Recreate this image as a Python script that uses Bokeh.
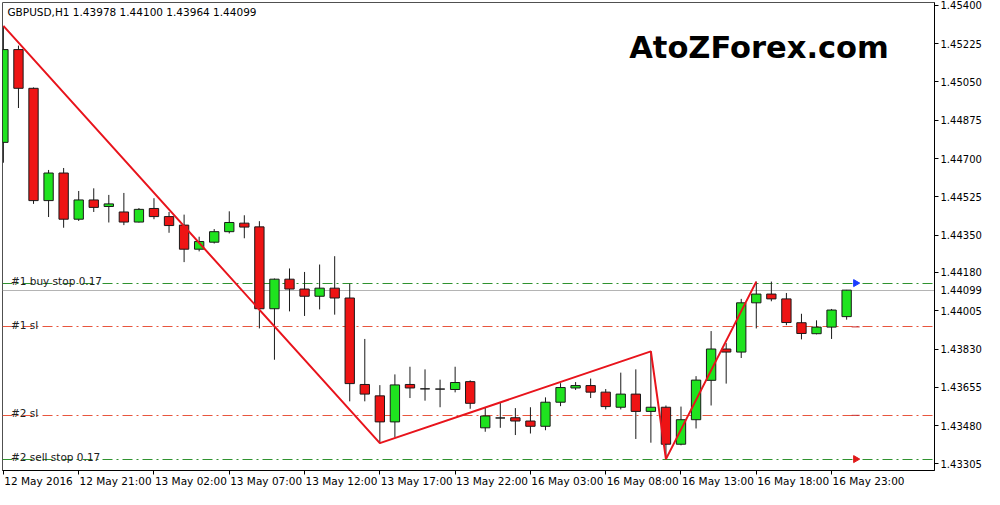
import math
from bokeh.plotting import figure
from bokeh.models import Range1d, FixedTicker, PrintfTickFormatter, Label, ColumnDataSource
from bokeh.embed import file_html
from bokeh.resources import INLINE

# ---------------- data ----------------
chart_title = "GBPUSD,H1  1.43978 1.44100 1.43964 1.44099"
watermark = "AtoZForex.com"

opens = [1.44774, 1.45198, 1.45021, 1.44508, 1.44634, 1.44423, 1.44511, 1.44481, 1.44456, 1.44410,
         1.44472, 1.44435, 1.44396, 1.44286, 1.44318, 1.44366, 1.44405, 1.44388, 1.44014, 1.44149,
         1.44104, 1.44071, 1.44108, 1.44063, 1.43668, 1.43616, 1.43497, 1.43668, 1.43648, 1.43647,
         1.43645, 1.43681, 1.43470, 1.43515, 1.43516, 1.43501, 1.43477, 1.43587, 1.43652, 1.43663,
         1.43633, 1.43564, 1.43624, 1.43545, 1.43564, 1.43395, 1.43507, 1.43687, 1.43830, 1.43816,
         1.44041, 1.44081, 1.44059, 1.43950, 1.43900, 1.43930, 1.43978]
highs = [1.45306, 1.45216, 1.45025, 1.44648, 1.44657, 1.44552, 1.44564, 1.44534, 1.44543, 1.44474,
         1.44519, 1.44456, 1.44444, 1.44343, 1.44378, 1.44459, 1.44441, 1.44414, 1.44152, 1.44198,
         1.44182, 1.44216, 1.44254, 1.44128, 1.43876, 1.43665, 1.43714, 1.43749, 1.43737, 1.43690,
         1.43749, 1.43687, 1.43564, 1.43587, 1.43560, 1.43564, 1.43609, 1.43674, 1.43679, 1.43695,
         1.43647, 1.43722, 1.43737, 1.43819, 1.43572, 1.43567, 1.43706, 1.43912, 1.43857, 1.44059,
         1.44138, 1.44138, 1.44086, 1.43991, 1.43961, 1.44013, 1.44100]
lows = [1.44681, 1.44931, 1.44493, 1.44433, 1.44384, 1.44415, 1.44456, 1.44408, 1.44396, 1.44408,
        1.44423, 1.44361, 1.44227, 1.44276, 1.44312, 1.44358, 1.44336, 1.43924, 1.43781, 1.44002,
        1.43981, 1.44011, 1.43987, 1.43591, 1.43591, 1.43399, 1.43426, 1.43606, 1.43594, 1.43564,
        1.43632, 1.43557, 1.43452, 1.43470, 1.43437, 1.43444, 1.43459, 1.43569, 1.43643, 1.43606,
        1.43554, 1.43554, 1.43419, 1.43402, 1.43327, 1.43390, 1.43467, 1.43572, 1.43672, 1.43789,
        1.43924, 1.44048, 1.43939, 1.43874, 1.43897, 1.43876, 1.43964]
closes = [1.45198, 1.45021, 1.44508, 1.44634, 1.44423, 1.44511, 1.44477, 1.44493, 1.44410, 1.44468,
          1.44435, 1.44394, 1.44286, 1.44321, 1.44366, 1.44408, 1.44387, 1.44014, 1.44149, 1.44104,
          1.44071, 1.44108, 1.44063, 1.43672, 1.43624, 1.43497, 1.43666, 1.43652, 1.43648, 1.43647,
          1.43677, 1.43582, 1.43524, 1.43515, 1.43501, 1.43477, 1.43587, 1.43654, 1.43663, 1.43633,
          1.43567, 1.43624, 1.43545, 1.43564, 1.43395, 1.43507, 1.43688, 1.43830, 1.43816, 1.44041,
          1.44081, 1.44059, 1.43951, 1.43901, 1.43930, 1.44008, 1.44099]

tick_bars = [0, 5, 10, 15, 20, 25, 30, 35, 40, 45, 50, 55]
tick_labels = ["12 May 2016", "12 May 21:00", "13 May 02:00", "13 May 07:00", "13 May 12:00",
               "13 May 17:00", "13 May 22:00", "16 May 03:00", "16 May 08:00", "16 May 13:00",
               "16 May 18:00", "16 May 23:00"]

price_ticks = [1.45400, 1.45225, 1.45050, 1.44875, 1.44700, 1.44525, 1.44350,
               1.44180, 1.44005, 1.43830, 1.43655, 1.43480, 1.43305]

zigzag_bars = [0, 25, 43, 44, 50]
zigzag_prices = [1.45306, 1.43400, 1.43819, 1.43327, 1.44138]

order_names = ["#1 buy stop 0.17", "#1 sl", "#2 sl", "#2 sell stop 0.17"]
order_levels = [1.44131, 1.43931, 1.43527, 1.43327]
order_kinds = ["entry", "sl", "sl", "entry"]
order_arrow_bar = 56.6

# ---------------- layout / styles ----------------
FONT = "DejaVu Sans"
FS = "10.5px"
FS_NUM = 10.5
BULL = "#1fe31f"
BEAR = "#ee1414"
WICK = "#1a1a1a"
ENTRY_COL = "#2f922f"
SL_COL = "#e8563e"

W, H = 984, 489
MB_L, MB_T, MB_R, MB_B = 2, 2, 48, 15
FRAME_W = W - MB_L - MB_R
PX_PER_BAR = 15.09

x_start = -0.06
x_end = x_start + FRAME_W / PX_PER_BAR
y_start, y_end = 1.43275, 1.45413

p = figure(width=W, height=H, x_range=Range1d(x_start, x_end), y_range=Range1d(y_start, y_end),
           output_backend="svg", toolbar_location=None, y_axis_location="right",
           min_border_left=MB_L, min_border_top=MB_T, min_border_right=MB_R, min_border_bottom=MB_B)
p.grid.visible = False
p.background_fill_color = "white"
p.border_fill_color = "white"
p.outline_line_color = "#505050"
p.outline_line_width = 1

# price scale: tick marks at the scale levels (minor ticks), labels at those levels + current price
current_price = closes[-1]
ya = p.yaxis[0]
ya.ticker = FixedTicker(ticks=price_ticks + [current_price], minor_ticks=price_ticks)
ya.formatter = PrintfTickFormatter(format="%.5f")
ya.major_tick_out = 4
ya.major_tick_in = 0
ya.major_tick_line_color = None
ya.minor_tick_out = 4
ya.minor_tick_in = 0
ya.minor_tick_line_color = "black"
ya.axis_line_color = "black"
ya.major_label_text_font = FONT
ya.major_label_text_font_size = "10px"
ya.major_label_text_color = "#000000"
ya.major_label_standoff = 2

# time scale: tick marks at the labelled bars (minor ticks), text left-aligned to them
CHAR_EM = {" ": 0.318, ":": 0.337, "M": 0.863, "a": 0.613, "y": 0.592}
def text_px(t):
    return sum(CHAR_EM.get(ch, 0.636) for ch in t) * FS_NUM

label_centres = [round(b + (text_px(t) / 2 + 1) / PX_PER_BAR, 4) for b, t in zip(tick_bars, tick_labels)]
xa = p.xaxis[0]
xa.ticker = FixedTicker(ticks=label_centres, minor_ticks=tick_bars)
xa.major_label_overrides = {c: t for c, t in zip(label_centres, tick_labels)}
xa.major_tick_out = 4
xa.major_tick_in = 0
xa.major_tick_line_color = None
xa.minor_tick_out = 4
xa.minor_tick_in = 0
xa.minor_tick_line_color = "black"
xa.axis_line_color = "black"
xa.major_label_text_font = FONT
xa.major_label_text_font_size = FS
xa.major_label_text_color = "#000000"
xa.major_label_standoff = 0

# order lines and current price line (behind candles)
for name, lvl, kind in zip(order_names, order_levels, order_kinds):
    col = ENTRY_COL if kind == "entry" else SL_COL
    p.hspan(y=[lvl], line_color=col, line_width=1, line_dash="10 4 2 4")
p.hspan(y=[current_price], line_color="#b4b4b4", line_width=1)

# candles
bar_index = list(range(len(opens)))
tops = [max(o, c) for o, c in zip(opens, closes)]
bottoms = [min(o, c) for o, c in zip(opens, closes)]
colors = [BULL if c > o else (BEAR if c < o else "#000000") for o, c in zip(opens, closes)]
src = ColumnDataSource(dict(x=bar_index, h=highs, l=lows, top=tops, bottom=bottoms, color=colors))
p.segment(x0="x", y0="l", x1="x", y1="h", source=src, line_color=WICK, line_width=1)
p.vbar(x="x", width=0.62, top="top", bottom="bottom", source=src,
       fill_color="color", line_color=WICK, line_width=1)

# zigzag
p.line(zigzag_bars, zigzag_prices, line_color="#e8141c", line_width=2)

# order arrows
entry_lv = [l for l, k in zip(order_levels, order_kinds) if k == "entry"]
sl_lv = [l for l, k in zip(order_levels, order_kinds) if k == "sl"]
p.scatter([order_arrow_bar], [entry_lv[0]], marker="triangle", angle=-math.pi / 2, size=7,
          fill_color="#1a3cff", line_color="#1a3cff")
p.scatter([order_arrow_bar], [entry_lv[1]], marker="triangle", angle=-math.pi / 2, size=7,
          fill_color="#e01818", line_color="#e01818")
p.scatter([order_arrow_bar] * len(sl_lv), sl_lv, marker="dash", size=8, line_color="#c82828", line_width=1)

# texts
for name, lvl, kind in zip(order_names, order_levels, order_kinds):
    p.add_layout(Label(x=0.5, y=lvl, y_offset=2, text=name, text_font=FONT, text_font_size=FS,
                       text_color="#202020", text_baseline="alphabetic", text_align="left"))

p.add_layout(Label(x=0.27, y=y_end, y_offset=-3, text=chart_title, text_font=FONT, text_font_size=FS,
                   text_color="#000000", text_baseline="top", text_align="left"))

p.add_layout(Label(x=41.56, y=1.45207, text=watermark, text_font=FONT, text_font_size="30.5px",
                   text_font_style="bold", text_color="#000000", text_baseline="alphabetic",
                   text_align="left"))

open("out.html", "w").write(file_html(p, INLINE))
